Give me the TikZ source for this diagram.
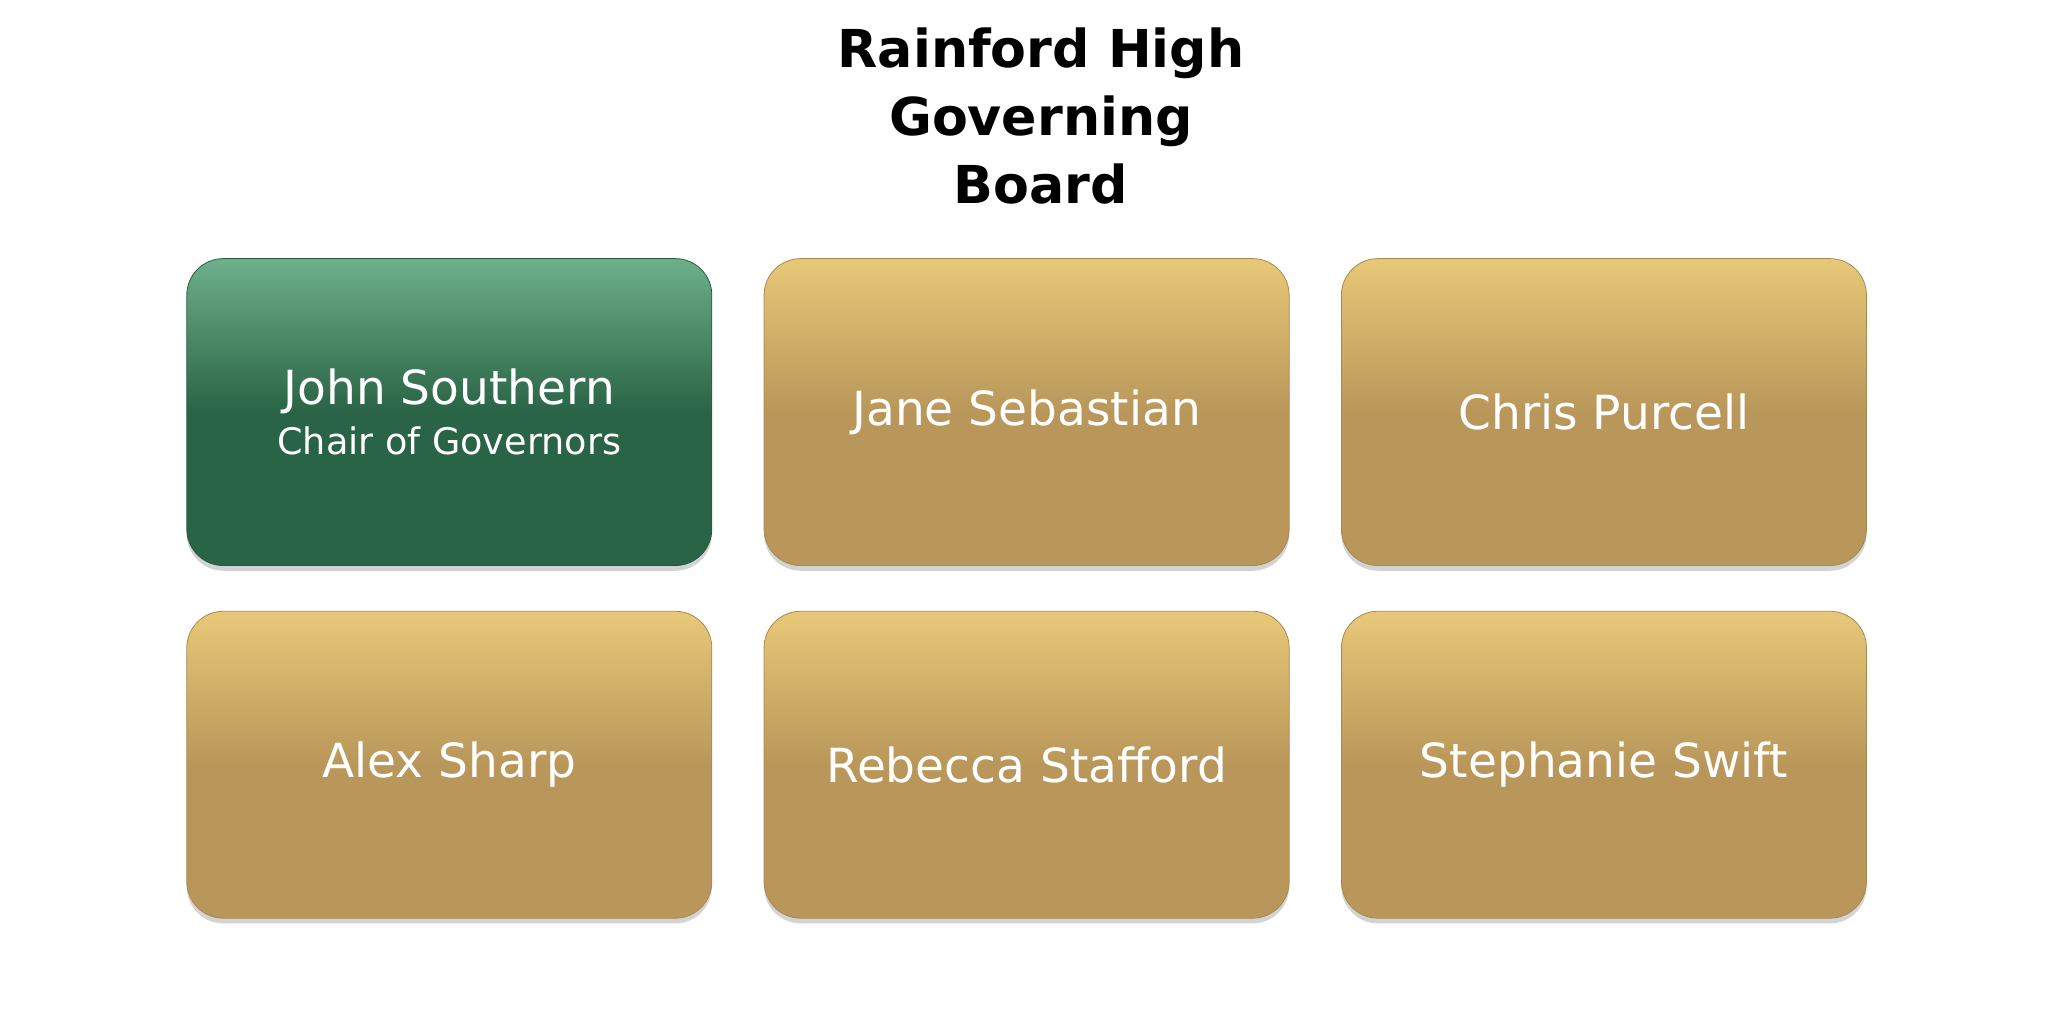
\documentclass[tikz,border=0pt]{standalone}
\usepackage{fontspec}
\setmainfont{DejaVu Sans}
\usetikzlibrary{shadows}
\definecolor{gold}{HTML}{B9975A}
\definecolor{goldtop}{HTML}{E8C878}
\definecolor{govgreen}{HTML}{2A6446}
\definecolor{greentop}{HTML}{6DB08A}
\tikzset{
  member/.style={rounded corners=28pt, minimum width=402pt, minimum height=235pt,
    text=white, align=center, font=\fontsize{36}{40}\selectfont,
    draw=#1!90!black, line width=0.6pt,
    drop shadow={shadow xshift=0pt, shadow yshift=-4pt, opacity=0.35}},
  goldbox/.style={member=gold, top color=goldtop, bottom color=gold,
    middle color=gold, shading angle=0},
  greenbox/.style={member=govgreen, top color=greentop, bottom color=govgreen,
    middle color=govgreen}
}
\begin{document}
\begin{tikzpicture}[x=1pt,y=1pt]
\useasboundingbox (0,0) rectangle (1568,793);
% title
\node[font=\fontsize{40}{52}\selectfont\bfseries, align=center, anchor=north] (title) at (797,775)
  {Rainford High\\Governing\\Board};
% first row
\node[greenbox] (john) at (344,477.5) {John Southern\\[-2pt]{\fontsize{28}{34}\selectfont Chair of Governors}};
\node[goldbox] (jane) at (786,477.5) {Jane Sebastian};
\node[goldbox] (chris) at (1228,477.5) {Chris Purcell};
% second row
\node[goldbox] (alex) at (344,207.5) {Alex Sharp};
\node[goldbox] (rebecca) at (786,207.5) {Rebecca Stafford};
\node[goldbox] (stephanie) at (1228,207.5) {Stephanie Swift};
\end{tikzpicture}
\end{document}
